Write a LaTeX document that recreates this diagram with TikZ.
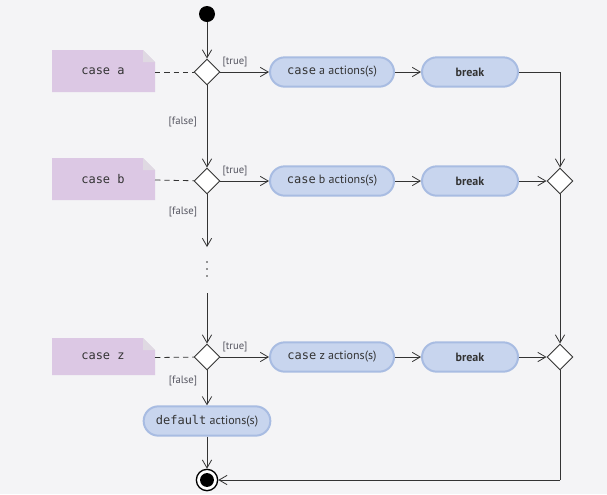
\documentclass[tikz,border=0pt]{standalone}
\usepackage{fontspec}
\setmainfont{PT Sans}
\setmonofont{DejaVu Sans Mono}
\usetikzlibrary{arrows.meta,shapes.geometric}
\definecolor{bg}{HTML}{F4F4F6}
\definecolor{pill}{HTML}{C8D5EE}
\definecolor{pillb}{HTML}{A8BCE2}
\definecolor{note}{HTML}{DCC8E4}
\definecolor{ln}{HTML}{333333}
\definecolor{lbl}{HTML}{555560}
\begin{document}
\begin{tikzpicture}[x=0.75pt,y=-0.75pt,
  every node/.style={font=\fontsize{9}{10}\selectfont},
  arr/.style={draw=ln,line width=0.6pt,-{Straight Barb[length=6pt,width=7pt]}},
  plain/.style={draw=ln,line width=0.6pt},
  dec/.style={diamond,draw=ln,fill=white,line width=0.7pt,minimum width=19.5pt,minimum height=19.5pt,inner sep=0pt},
  act/.style={rounded corners=11pt,draw=pillb,line width=1.5pt,fill=pill,minimum height=22pt,text=ln},
  lab/.style={text=lbl,font=\fontsize{8}{9}\selectfont},
  dot/.style={circle,fill=ln,minimum size=1.4pt,inner sep=0pt},
  dsh/.style={draw=ln,line width=0.6pt,dash pattern=on 4pt off 3pt}]
\fill[bg] (0,0) rectangle (607,494);
\useasboundingbox (0,0) rectangle (607,494);
% notes
\foreach \n/\t/\ya/\yb in {na/a/50/92,nb/b/158/200,nz/z/338/375}{
  \fill[note] (52,\ya) -- (143,\ya) -- (155,\ya+12) -- (155,\yb) -- (52,\yb) -- cycle;
  \fill[note!80!black!40] (143,\ya) -- (143,\ya+12) -- (155,\ya+12) -- cycle;
  \node[text=ln] (\n) at (103,{(\ya+\yb)/2}) {\texttt{case \t}};
  \coordinate (\n e) at (155,{(\ya+\yb)/2+1});
}
\node[circle,fill=black,minimum size=12pt,inner sep=0pt] (start) at (207,14) {};
\node[dec] (da) at (207,72) {};
\node[dec] (db) at (207,181) {};
\node[dec] (dz) at (207,357) {};
\node[dec] (mb) at (560,181) {};
\node[dec] (mz) at (560,357) {};
\node[act,minimum width=93pt] (aa) at (332,72) {\texttt{case} a actions(s)};
\node[act,minimum width=93pt] (ab) at (332,181) {\texttt{case} b actions(s)};
\node[act,minimum width=93pt] (az) at (332,357) {\texttt{case} z actions(s)};
\node[act,minimum width=72pt] (ba) at (470,72) {\textbf{break}};
\node[act,minimum width=72pt] (bb) at (470,181) {\textbf{break}};
\node[act,minimum width=72pt] (bz) at (470,357) {\textbf{break}};
\node[act,minimum width=95pt] (def) at (207,421) {\texttt{default} actions(s)};
\node[circle,draw=black,line width=1pt,fill=white,minimum size=16pt,inner sep=0pt] (end) at (207,480) {};
\fill[black] (end.center) circle (5.2pt);
\node[dot] (d1) at (207,262) {};
\node[dot] (d2) at (207,269) {};
\node[dot] (d3) at (207,276) {};
\coordinate (db2) at (207,247);
\coordinate (dz1) at (207,293);
\coordinate (ta) at (560,72);
\coordinate (tz) at (560,480);
% connectors
\draw[arr] (start) -- (da);
\draw[arr] (da) -- node[lab,left,xshift=-4pt,pos=0.45]{[false]} (db);
\draw[arr] (db) -- (db2);
\draw[arr] (dz1) -- (dz);
\draw[arr] (dz) -- (def);
\draw[arr] (def) -- (end);
\foreach \d/\a/\b in {da/aa/ba,db/ab/bb,dz/az/bz}{
  \draw[arr] (\d) -- node[lab,above,pos=0.3]{[true]} (\a);
  \draw[arr] (\a) -- (\b);
}
\draw[plain] (ba) -- (ta);
\draw[arr] (ta) -- (mb);
\draw[arr] (bb) -- (mb);
\draw[arr] (mb) -- (mz);
\draw[arr] (bz) -- (mz);
\draw[plain] (mz) -- (tz);
\draw[arr] (tz) -- (end);
\node[lab] at (183,212) {[false]};
\node[lab] at (183,381) {[false]};
\draw[dsh] (nae) -- (da);
\draw[dsh] (nbe) -- (db);
\draw[dsh] (nze) -- (dz);
\end{tikzpicture}
\end{document}
